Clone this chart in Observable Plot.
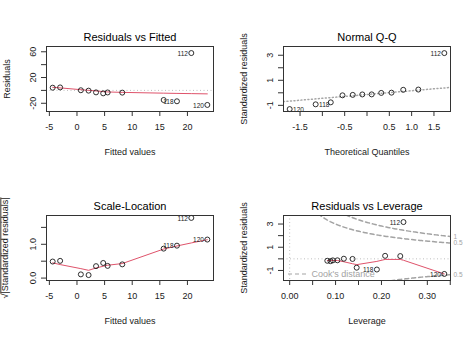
<!DOCTYPE html>
<html><head><meta charset="utf-8">
<script src="https://cdn.jsdelivr.net/npm/d3@7"></script>
<script src="https://cdn.jsdelivr.net/npm/@observablehq/plot@0.6"></script>
<style>
body{margin:0;background:#fff;}
#wrap{position:relative;width:474px;height:338px;overflow:hidden;font-family:"Liberation Sans",Arial,Helvetica,sans-serif;}
#wrap svg{position:absolute;}
</style></head><body><div id="wrap"></div>
<script>
// ---- data (observations in order of fitted value) ----
const obsLabels      = ["", "", "", "", "", "", "", "", "", "118", "112", "120"];
const fitted         = [-4.4, -3.05, 0.7, 2.1, 3.45, 4.75, 5.55, 8.2, 15.7, 18.1, 20.7, 23.6];
const residuals      = [4.2, 4.6, 0.2, -0.4, -3.1, -4.6, -3.2, -3.5, -14.9, -16.9, 58.0, -22.6];
const stdResiduals   = [0.24, 0.26, 0.012, -0.008, -0.125, -0.2, -0.13, -0.165, -0.76, -0.92, 3.17, -1.3];
const leverage       = [0.241, 0.208, 0.118, 0.137, 0.104, 0.089, 0.094, 0.082, 0.146, 0.19, 0.248, 0.337];
const theoQuantiles  = [-1.732, -1.150, -0.812, -0.549, -0.319, -0.105, 0.105, 0.319, 0.549, 0.812, 1.150, 1.732];
const smoothResFit   = [4.8, 3.9, 1.1, 0.1, -0.8, -1.9, -2.4, -3.1, -4.3, -4.7, -5.0, -5.4];
const smoothScaleLoc = [0.45, 0.40, 0.28, 0.23, 0.30, 0.35, 0.38, 0.43, 0.86, 0.95, 1.04, 1.135];
const smoothLev      = [-0.05, -0.05, -0.25, -0.42, -0.14, -0.14, -0.14, -0.14, -0.5, -0.22, -0.12, -1.3];
const cookLevels     = [0.5, 1];
const nParams        = 2;

// ---- ticks ----
const fitTicks = [-5, 0, 5, 10, 15, 20];
const fitTickLabels = ["-5", "0", "5", "10", "15", "20"];
const resTicks = [-20, 0, 20, 40, 60];
const resTickLabels = ["-20", "", "20", "", "60"];
const qTicks = [-1.5, -1, -0.5, 0, 0.5, 1, 1.5];
const qTickLabels = ["-1.5", "", "-0.5", "", "0.5", "1.0", "1.5"];
const stdTicks = [-1, 0, 1, 2, 3];
const stdTickLabels = ["-1", "", "1", "", "3"];
const slTicks = [0, 0.5, 1, 1.5];
const slTickLabels = ["0.0", "", "1.0", ""];
const levTicks = [0, 0.05, 0.1, 0.15, 0.2, 0.25, 0.3, 0.35];
const levTickLabels = ["0.00", "", "0.10", "", "0.20", "", "0.30", ""];

// ---- texts ----
const titles = ["Residuals vs Fitted", "Normal Q-Q", "Scale-Location", "Residuals vs Leverage"];
const xTitles = ["Fitted values", "Theoretical Quantiles", "Fitted values", "Leverage"];
const yTitles = ["Residuals", "Standardized residuals", "√|Standardized residuals|", "Standardized residuals"];

// ---- helpers ----
const wrap = document.getElementById("wrap");
const W = 237, H = 169;
const M = {marginLeft: 46, marginRight: 24, marginTop: 46, marginBottom: 58};
const font = '"Liberation Sans", Arial, Helvetica, sans-serif';
const red = "#DF536B", ink = "#1a1a1a", grey = "#bebebe", cookGrey = "#a3a3a3";
const padR = ([lo, hi]) => { const d = hi - lo; return [lo - 0.04 * d, hi + 0.04 * d]; };
const ext08 = ([lo, hi]) => { const d = hi - lo; return [lo - 0.08 * d, hi + 0.08 * d]; };
const labeler = (ticks, labels) => { const m = new Map(ticks.map((t, i) => [t, labels[i]])); return d => m.get(d) ?? ""; };

const rows = fitted.map((f, i) => ({
  fitted: f, resid: residuals[i], std: stdResiduals[i], lev: leverage[i], label: obsLabels[i],
  sqrtStd: Math.sqrt(Math.abs(stdResiduals[i])),
  sRF: smoothResFit[i], sSL: smoothScaleLoc[i], sLev: smoothLev[i]
}));

function idLabels(data, x, y, mid) {
  const lab = data.filter(d => d.label);
  return [
    Plot.text(lab.filter(d => x(d) > mid), {x, y, text: "label", textAnchor: "end", dx: -3.4, dy: 0.5, fontSize: 6.5, fill: ink}),
    Plot.text(lab.filter(d => x(d) <= mid), {x, y, text: "label", textAnchor: "start", dx: 3.4, dy: 0.5, fontSize: 6.5, fill: ink})
  ];
}

const centered = {textAnchor: "middle", lineAnchor: "middle"};

function panel(o) {
  const svg = Plot.plot({
    width: W, height: H, ...M,
    style: {fontFamily: font, background: "transparent", color: ink, overflow: "visible"},
    x: {domain: o.xDomain, axis: null},
    y: {domain: o.yDomain, axis: null},
    marks: [
      ...o.marks,
      Plot.dot(o.data, {x: o.x, y: o.y, r: 2.5, stroke: ink, strokeWidth: 0.9, fill: "none"}),
      ...idLabels(o.data, o.x, o.y, (o.xDomain[0] + o.xDomain[1]) / 2),
      Plot.frame({stroke: "#333"}),
      Plot.axisX({ticks: o.xTicks, tickFormat: labeler(o.xTicks, o.xLabels), tickSize: 5, tickPadding: 7, fontSize: 9, label: null, stroke: "#333"}),
      Plot.axisY({ticks: o.yTicks, tickFormat: labeler(o.yTicks, o.yLabels), tickSize: 5, tickRotate: -90, tickPadding: 6, fontSize: 9, label: null, stroke: "#333"}),
      Plot.text([o.title], {frameAnchor: "top", dy: -9, fontSize: 11, fill: "#000", ...centered}),
      Plot.text([o.xlab], {frameAnchor: "bottom", dy: 41, fontSize: 9, fill: ink, ...centered}),
      Plot.text([o.ylab], {frameAnchor: "left", dx: o.ylabDx ?? -39, rotate: -90, fontSize: 9, fill: ink, ...centered})
    ]
  });
  svg.style.left = o.left + "px";
  svg.style.top = o.top + "px";
  wrap.appendChild(svg);
  return svg;
}

// ---- Panel 1: Residuals vs Fitted ----
const fitDomain = padR(d3.extent(fitted));
panel({
  left: 0, top: 0, title: titles[0], xlab: xTitles[0], ylab: yTitles[0],
  data: rows, x: d => d.fitted, y: d => d.resid,
  xDomain: fitDomain, yDomain: padR(ext08(d3.extent(residuals))),
  xTicks: fitTicks, xLabels: fitTickLabels, yTicks: resTicks, yLabels: resTickLabels,
  marks: [
    Plot.ruleY([0], {stroke: grey, strokeDasharray: "1,2.5"}),
    Plot.line(rows, {x: "fitted", y: "sRF", stroke: red, strokeWidth: 1})
  ]
});

// ---- Panel 2: Normal Q-Q ----
const qqRows = rows.slice().sort((a, b) => a.std - b.std).map((d, i) => ({...d, theo: theoQuantiles[i]}));
const qDomain = padR(d3.extent(theoQuantiles));
const stdExt = d3.extent(stdResiduals);
const qqY = padR([stdExt[0], stdExt[1] + (stdExt[1] - stdExt[0]) * 0.075]);
const sortedStd = qqRows.map(d => d.std);
const yq1 = d3.quantile(sortedStd, 0.25), yq3 = d3.quantile(sortedStd, 0.75);
const zq = 0.6744897501960817;
const qqSlope = (yq3 - yq1) / (2 * zq), qqInt = yq1 + zq * qqSlope;
const qqLine = qDomain.map(x => ({x, y: qqInt + qqSlope * x}));
panel({
  left: 237, top: 0, title: titles[1], xlab: xTitles[1], ylab: yTitles[1],
  data: qqRows, x: d => d.theo, y: d => d.std,
  xDomain: qDomain, yDomain: qqY,
  xTicks: qTicks, xLabels: qTickLabels, yTicks: stdTicks, yLabels: stdTickLabels,
  marks: [
    Plot.line(qqLine, {x: "x", y: "y", stroke: "#a6a6a6", strokeDasharray: "1,2.5", clip: true})
  ]
});

// ---- Panel 3: Scale-Location ----
const slSvg = panel({
  left: 0, top: 169, title: titles[2], xlab: xTitles[2], ylab: yTitles[2], ylabDx: -41,
  data: rows, x: d => d.fitted, y: d => d.sqrtStd,
  xDomain: fitDomain, yDomain: padR([0, d3.max(rows, d => d.sqrtStd)]),
  xTicks: fitTicks, xLabels: fitTickLabels, yTicks: slTicks, yLabels: slTickLabels,
  marks: [
    Plot.line(rows, {x: "fitted", y: "sSL", stroke: red, strokeWidth: 1})
  ]
});
d3.select(slSvg).selectAll("text").filter(function () { return this.textContent === yTitles[2]; })
  .each(function () {
    const t = d3.select(this);
    t.text("√");
    t.append("tspan").style("text-decoration", "overline").text(yTitles[2].slice(1));
  });

// ---- Panel 4: Residuals vs Leverage ----
const levDomain = padR([0, d3.max(leverage)]);
const levRows = rows.slice().sort((a, b) => a.lev - b.lev);
const levY = padR(ext08(d3.extent(stdResiduals)));
const hMin = Math.min(levRows[0].lev, levRows[1].lev / 100);
const hh = d3.range(101).map(i => hMin + i * (levDomain[1] - hMin) / 100);
const cookCurves = [];
for (const c of cookLevels) for (const s of [1, -1])
  for (const h of hh) cookCurves.push({h, v: s * Math.sqrt(c * nParams * (1 - h) / h), key: c + "_" + s});
const xmax = Math.min(0.99, levDomain[1]);
const ymult = Math.sqrt(nParams * (1 - xmax) / xmax);
const cookTicks = [];
for (const c of cookLevels) for (const s of [1, -1]) cookTicks.push({v: s * Math.sqrt(c) * ymult, t: String(c)});
const cookTicksIn = cookTicks.filter(d => d.v >= levY[0] && d.v <= levY[1]);
const levSvg = panel({
  left: 237, top: 169, title: titles[3], xlab: xTitles[3], ylab: yTitles[3],
  data: levRows, x: d => d.lev, y: d => d.std,
  xDomain: levDomain, yDomain: levY,
  xTicks: levTicks, xLabels: levTickLabels, yTicks: stdTicks, yLabels: stdTickLabels,
  marks: [
    Plot.ruleY([0], {stroke: grey, strokeDasharray: "1,2.5"}),
    Plot.ruleX([0], {stroke: grey, strokeDasharray: "1,2.5"}),
    Plot.line(cookCurves, {x: "h", y: "v", z: "key", stroke: cookGrey, strokeDasharray: "4,3", clip: true}),
    Plot.line(levRows, {x: "lev", y: "sLev", stroke: red, strokeWidth: 1}),
    Plot.text(cookTicksIn, {y: "v", text: "t", frameAnchor: "right", dx: 3, textAnchor: "start", lineAnchor: "middle", fontSize: 6.5, fill: cookGrey}),
    Plot.text(["Cook's distance"], {frameAnchor: "bottom-left", dx: 28, dy: -6, textAnchor: "start", lineAnchor: "middle", fontSize: 9, fill: cookGrey})
  ]
});
// legend line sample
d3.select(levSvg).append("line")
  .attr("x1", M.marginLeft + 5).attr("x2", M.marginLeft + 25)
  .attr("y1", H - M.marginBottom - 6).attr("y2", H - M.marginBottom - 6)
  .attr("stroke", cookGrey).attr("stroke-dasharray", "4,3");
</script>
</body></html>
